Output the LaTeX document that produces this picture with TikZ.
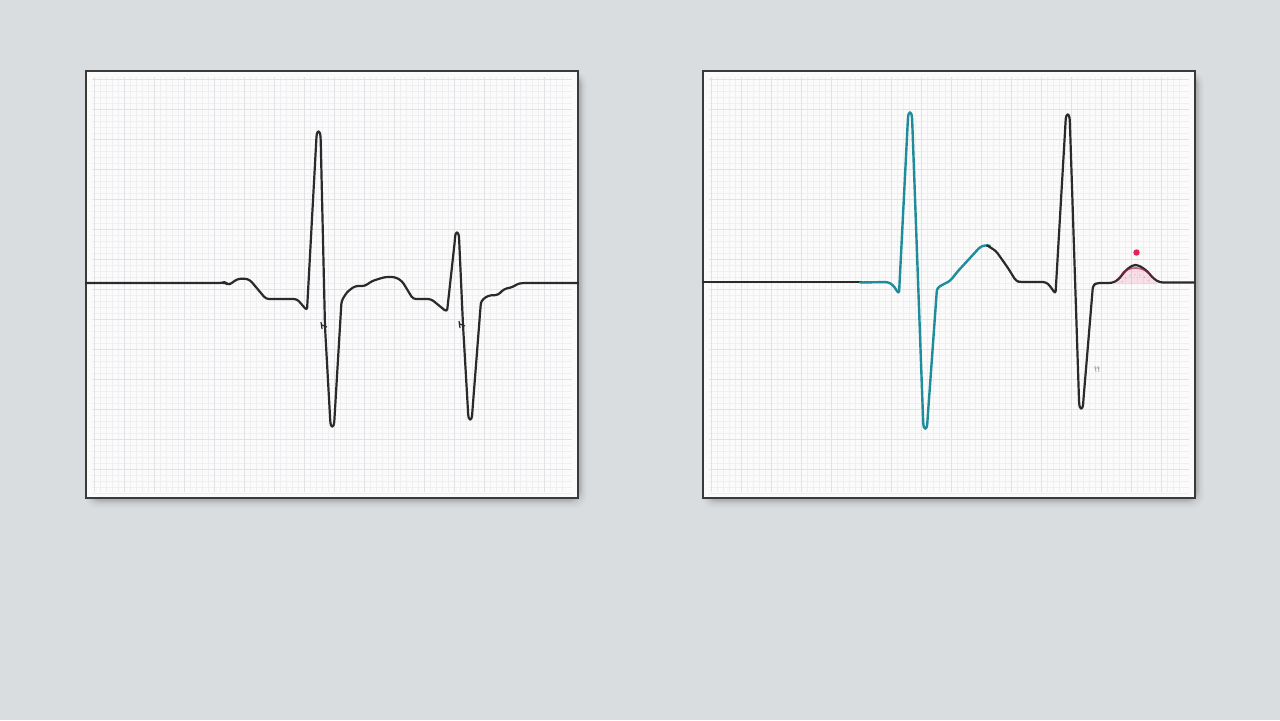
\documentclass[tikz,border=0pt]{standalone}
\usetikzlibrary{calc}
\definecolor{bg}{HTML}{D9DDE0}
\definecolor{paper}{HTML}{FBFBFB}
\definecolor{gridminor}{HTML}{EEEFF1}
\definecolor{gridmajor}{HTML}{E0E2E5}
\definecolor{frame}{HTML}{3A3A3A}
\definecolor{trace}{HTML}{2A2A2A}
\definecolor{teal}{HTML}{1F8C9C}
\definecolor{pinkred}{HTML}{E0245A}
\tikzset{
  panelbox/.style={draw=frame, line width=0.8pt, fill=paper},
  ecg/.style={draw=trace, line width=1.1pt, rounded corners=1.5pt, line join=round, line cap=round},
  ecgteal/.style={draw=teal, line width=1.2pt, rounded corners=1.5pt, line join=round, line cap=round},
  minorgrid/.style={draw=gridminor, line width=0.35pt},
  majorgrid/.style={draw=gridmajor, line width=0.5pt},
}
% peak up: (#1,#2) is the tip
\newcommand{\pkup}[2]{-- (#1-2.2,#2+9) .. controls (#1-1.6,#2-1.5) and (#1+1.6,#2-1.5) .. (#1+2.2,#2+9)}
\newcommand{\pkdn}[2]{-- (#1-2.2,#2-9) .. controls (#1-1.6,#2+1.5) and (#1+1.6,#2+1.5) .. (#1+2.2,#2-9)}
\newcommand{\ecgpanel}[2]{%
  \foreach \k/\o in {14/0.015,11/0.02,8/0.025,6/0.03,4/0.035,2.5/0.04,1.2/0.045}{
    \fill[black, opacity=\o, rounded corners=6pt] (#1-\k*0.3+3,#2-\k*0.2+3) rectangle (#1+492+\k*0.5+2,#2+427+\k*0.6+2);
  }
  \path[panelbox] (#1,#2) rectangle (#1+492,#2+427);
  \foreach \i in {0,...,78}{
    \draw[minorgrid] (#1+8+\i*6.0,#2+6) -- (#1+8+\i*6.0,#2+421);
  }
  \foreach \j in {0,...,69}{
    \draw[minorgrid] (#1+6,#2+8+\j*6.0) -- (#1+486,#2+8+\j*6.0);
  }
  \foreach \i in {0,...,15}{
    \draw[majorgrid] (#1+8+\i*30,#2+6) -- (#1+8+\i*30,#2+421);
  }
  \foreach \j in {0,...,13}{
    \draw[majorgrid] (#1+6,#2+8+\j*30) -- (#1+486,#2+8+\j*30);
  }
  \draw[frame, line width=0.8pt] (#1,#2) rectangle (#1+492,#2+427);
}
\begin{document}
\begin{tikzpicture}[x=0.5pt,y=-0.5pt]
\useasboundingbox (0,0) rectangle (1280,720);
\fill[bg] (0,0) rectangle (1280,720);

\ecgpanel{86}{71}
\ecgpanel{703}{71}

% ---------- left trace ----------
\draw[ecg] (86,283) -- (222,283) -- (225,282) -- (228,285) -- (232,283) -- (237,279) -- (245,278.5)
  -- (250,280) -- (266,299) -- (297,299) -- (307,310.5)
  \pkup{318.5}{131} -- (325,327) \pkdn{332.3}{427}
  -- (341.5,301) -- (347,292) -- (355,286) -- (365,286) -- (372,281) -- (385,277) -- (395,277)
  -- (402,281) -- (413,299) -- (431,299) -- (447,312)
  \pkup{457}{232} -- (463,325) \pkdn{470.2}{420}
  -- (481,301) -- (488,295.5) -- (498,295) -- (504,289) -- (513,287) -- (517,284) -- (522,283) -- (578,283);
% small marks on the down strokes
\draw[trace, line width=0.6pt] (321,322) -- (322,329) (322,325) -- (327,327);
\draw[trace, line width=0.6pt] (459,321) -- (460,328) (460,324) -- (465,326);

% ---------- right trace ----------
\draw[ecg] (703,282) -- (862,282);
\draw[ecgteal] (860,282.5) -- (888,282) -- (893,285) -- (899,294)
  \pkup{910}{112} \pkdn{925.3}{429}
  -- (937,288) -- (942,285) -- (950,281) -- (958,271) -- (970,258) -- (980,247) -- (985,245) -- (990,246);
\draw[ecg] (987,245.3) -- (996,251) -- (1008,268) -- (1016,281) -- (1020,282) -- (1046,282)
  -- (1050,286) -- (1055.5,294)
  \pkup{1067.7}{114} \pkdn{1081.2}{409}
  -- (1093,285) -- (1097,283) -- (1112,283) -- (1118,280) -- (1126,270) -- (1133,265) -- (1138,265)
  -- (1146,270) -- (1154,279) -- (1160,282.5) -- (1194,282.5);
% pink glow under the small bump
\fill[pinkred, opacity=0.12] (1113,284) .. controls (1125,262) and (1146,262) .. (1158,284) -- cycle;
\draw[pinkred, opacity=0.35, line width=0.5pt, dotted] (1122,282) .. controls (1128,272) and (1142,272) .. (1150,282);
\draw[pinkred!70!black, opacity=0.6, line width=0.9pt] (1122,274) .. controls (1128,266) and (1142,266) .. (1150,274);
\fill[pinkred] (1136.5,252.5) circle (3.2);
% faint mark
\draw[gray!70, line width=0.4pt] (1095,366) -- (1096,372) (1098,366) -- (1099,372) (1094,368) -- (1100,368);
\end{tikzpicture}
\end{document}
